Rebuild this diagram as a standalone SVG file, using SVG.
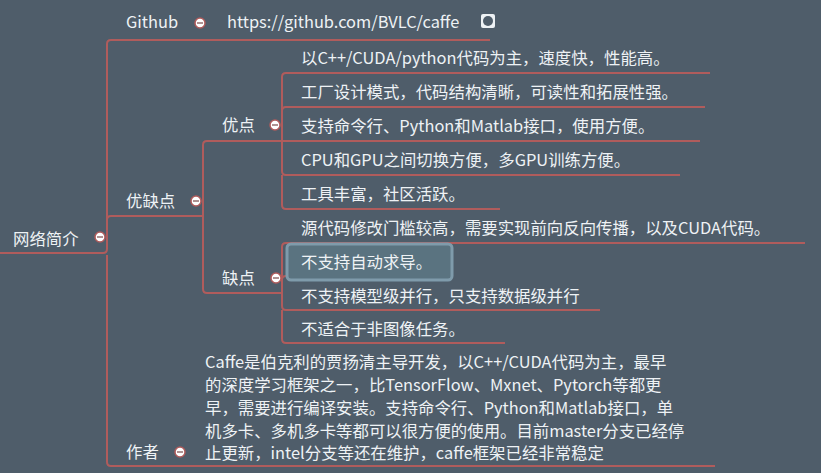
<svg xmlns="http://www.w3.org/2000/svg" width="821" height="473" viewBox="0 0 821 473">
<style>
text{font-family:"Microsoft YaHei","Noto Sans CJK SC","Liberation Sans",sans-serif;font-size:16.4px;fill:#eef2f5}
.l{fill:none;stroke:#b05c5c;stroke-width:2}
.c{fill:#fff;stroke:#b05c5c;stroke-width:1.5}
.m{stroke:#7a4a4a;stroke-width:1.2}
</style>
<rect width="821" height="473" fill="#4f5d6a"/>
<g id="connectors">
<path class="l" d="M0 253H103Q107 253 107 249V44Q107 40 111 40H490"/>
<path class="l" d="M107 255V462Q107 466 111 466H715"/>
<path class="l" d="M107 220Q107 216 111 216H203"/>
<path class="l" d="M203 216V145Q203 141 207 141H700"/>
<path class="l" d="M203 216V289Q203 293 207 293H282"/>
<path class="l" d="M282 141V77Q282 73 286 73H710"/>
<path class="l" d="M282 111Q282 107 286 107H705"/>
<path class="l" d="M282 141V171Q282 175 286 175H680"/>
<path class="l" d="M282 175V205Q282 209 286 209H500"/>
<path class="l" d="M282 293V247Q282 243 286 243H805"/>
<path class="l" d="M282 280Q282 276 286 276H450"/>
<path class="l" d="M282 293V306Q282 310 286 310H600"/>
<path class="l" d="M282 310V339Q282 343 286 343H505"/>
</g>
<g id="root"><text x="13" y="245">网络简介</text><circle class="c" cx="100" cy="237" r="5"/><line class="m" x1="97" y1="237" x2="103" y2="237"/></g>
<g id="github"><text x="126" y="28">Github</text><circle class="c" cx="200" cy="23" r="5"/><line class="m" x1="197" y1="23" x2="203" y2="23"/>
<text x="227" y="28">https://github.com/BVLC/caffe</text>
<rect x="481" y="14" width="14" height="14" rx="2" fill="#eef2f5"/><circle cx="488" cy="21" r="5" fill="#4f5d6a"/></g>
<g id="procon"><text x="126" y="207">优缺点</text><circle class="c" cx="196" cy="201" r="5"/><line class="m" x1="193" y1="201" x2="199" y2="201"/></g>
<g id="pro"><text x="222" y="131">优点</text><circle class="c" cx="275" cy="125" r="5"/><line class="m" x1="272" y1="125" x2="278" y2="125"/></g>
<g id="p1"><text x="301" y="64">以C++/CUDA/python代码为主，速度快，性能高。</text></g>
<g id="p2"><text x="301" y="98">工厂设计模式，代码结构清晰，可读性和拓展性强。</text></g>
<g id="p3"><text x="301" y="132">支持命令行、Python和Matlab接口，使用方便。</text></g>
<g id="p4"><text x="301" y="166">CPU和GPU之间切换方便，多GPU训练方便。</text></g>
<g id="p5"><text x="301" y="200">工具丰富，社区活跃。</text></g>
<g id="con"><text x="222" y="284">缺点</text><circle class="c" cx="276" cy="278" r="5"/><line class="m" x1="273" y1="278" x2="279" y2="278"/></g>
<g id="c1"><text x="301" y="234">源代码修改门槛较高，需要实现前向反向传播，以及CUDA代码。</text></g>
<g id="c2"><rect x="287" y="244" width="165" height="36" rx="4" fill="#5a7380" stroke="#7f9bab" stroke-width="3"/><text x="301" y="268">不支持自动求导。</text></g>
<g id="c3"><text x="301" y="302">不支持模型级并行，只支持数据级并行</text></g>
<g id="c4"><text x="301" y="335">不适合于非图像任务。</text></g>
<g id="author"><text x="126" y="458">作者</text><circle class="c" cx="180" cy="452" r="5"/><line class="m" x1="177" y1="452" x2="183" y2="452"/>
<text x="205" y="368">Caffe是伯克利的贾扬清主导开发，以C++/CUDA代码为主，最早</text>
<text x="205" y="391">的深度学习框架之一，比TensorFlow、Mxnet、Pytorch等都更</text>
<text x="205" y="414">早，需要进行编译安装。支持命令行、Python和Matlab接口，单</text>
<text x="205" y="437">机多卡、多机多卡等都可以很方便的使用。目前master分支已经停</text>
<text x="205" y="459">止更新，intel分支等还在维护，caffe框架已经非常稳定</text></g>
</svg>
